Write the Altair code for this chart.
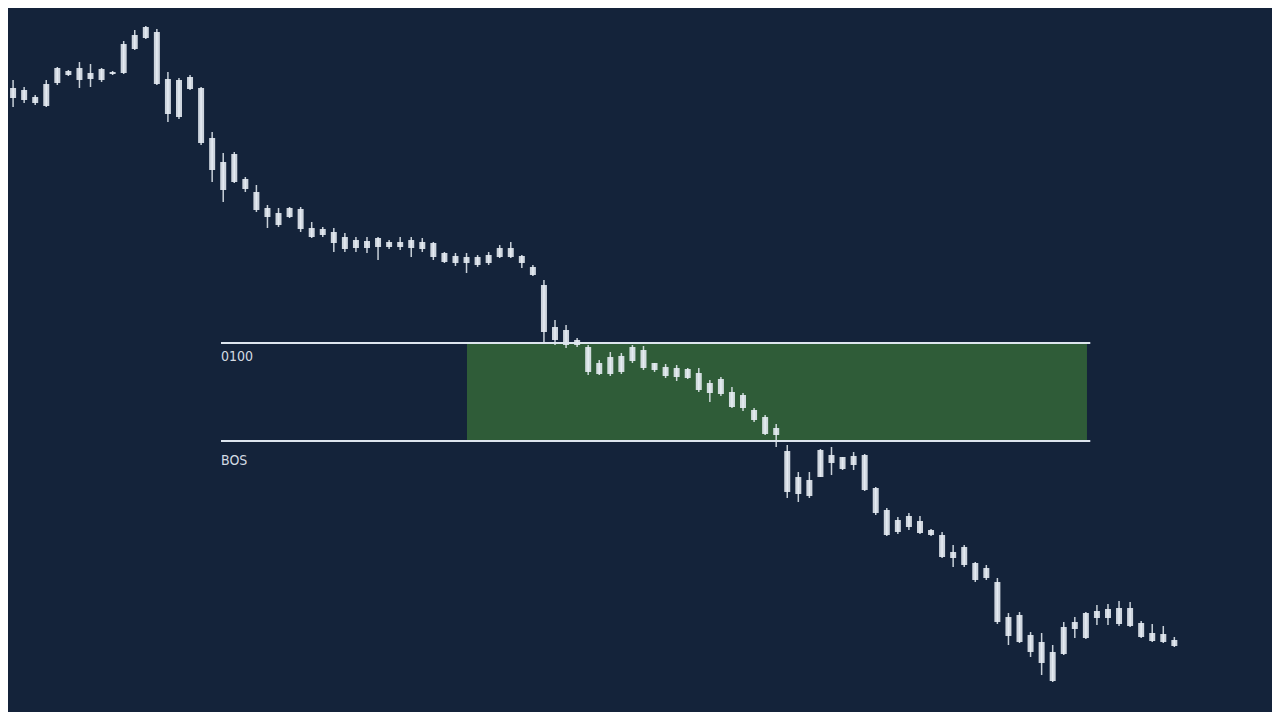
import altair as alt
import pandas as pd

# Candle OHLC values (price units)
high = [637, 640, 633, 625, 640, 653, 650, 658, 656, 652, 649, 679, 690, 694, 691, 648, 642, 645, 633, 588,
        567, 568, 543, 535, 515, 512, 513, 513, 498, 493, 492, 487, 483, 483, 483, 480, 483, 483, 482, 478,
        468, 467, 467, 465, 468, 475, 478, 465, 455, 440, 400, 395, 382, 375, 360, 368, 367, 375, 374, 357,
        356, 355, 352, 352, 340, 343, 333, 327, 312, 305, 296, 275, 248, 248, 271, 273, 263, 268, 266, 233,
        212, 203, 207, 204, 191, 188, 175, 175, 158, 155, 142, 107, 108, 88, 87, 75, 98, 103, 108, 115,
        116, 119, 118, 99, 96, 94, 83]
low = [616, 613, 617, 615, 613, 635, 644, 632, 633, 638, 645, 646, 670, 681, 635, 598, 601, 630, 575, 538,
       518, 537, 528, 508, 492, 493, 502, 488, 482, 483, 468, 468, 468, 467, 460, 471, 470, 463, 468, 460,
       457, 454, 447, 453, 455, 462, 462, 452, 444, 378, 375, 372, 373, 345, 345, 344, 346, 357, 350, 348,
       342, 339, 341, 328, 318, 324, 312, 309, 298, 285, 273, 222, 218, 222, 243, 245, 250, 250, 229, 205,
       184, 186, 190, 186, 184, 162, 153, 153, 138, 140, 96, 75, 77, 63, 45, 38, 65, 82, 81, 95,
       95, 94, 93, 82, 78, 77, 73]
open_ = [635, 632, 630, 623, 614, 637, 649, 640, 647, 651, 648, 647, 671, 682, 688, 641, 640, 643, 632, 582,
         558, 566, 541, 528, 512, 507, 512, 511, 492, 491, 488, 483, 480, 479, 482, 478, 478, 480, 478, 477,
         467, 464, 463, 463, 465, 463, 463, 464, 453, 435, 393, 390, 380, 373, 357, 363, 364, 359, 370, 357,
         353, 352, 351, 347, 337, 341, 328, 325, 310, 303, 292, 269, 243, 240, 243, 265, 263, 264, 265, 232,
         210, 200, 204, 199, 190, 185, 168, 173, 157, 152, 138, 103, 105, 85, 78, 68, 66, 98, 82, 102,
         102, 96, 112, 97, 87, 86, 80]
close = [618, 622, 620, 617, 636, 652, 645, 652, 641, 640, 646, 676, 685, 693, 636, 606, 603, 631, 577, 550,
         530, 538, 531, 510, 503, 495, 503, 491, 483, 485, 477, 471, 472, 472, 473, 473, 473, 472, 471, 463,
         458, 457, 457, 455, 457, 472, 472, 457, 445, 388, 380, 375, 375, 348, 346, 346, 348, 373, 352, 350,
         344, 343, 342, 330, 327, 326, 313, 312, 300, 286, 285, 228, 226, 224, 270, 257, 251, 255, 230, 207,
         185, 188, 193, 187, 185, 163, 162, 155, 140, 142, 98, 84, 78, 68, 57, 39, 93, 91, 107, 109,
         111, 112, 94, 83, 79, 78, 74]
idx = list(range(len(high)))

# Zone / level values
zone_start, zone_end = 42.04, 98.1
level_start, level_end = 19.8, 98.4
level_top, level_bottom = 377, 279
label_texts = ["0100", "BOS"]
label_prices = [363, 259]

candles = pd.DataFrame({"i": idx, "open": open_, "high": high, "low": low, "close": close})
zone = pd.DataFrame({"x1": [zone_start], "x2": [zone_end], "lo": [level_bottom], "hi": [level_top]})
levels = pd.DataFrame({"x1": [level_start, level_start], "x2": [level_end, level_end],
                       "p": [level_top, level_bottom]})
labels = pd.DataFrame({"x": [level_start, level_start], "p": label_prices, "t": label_texts})

xs = alt.Scale(domain=[0.54, 114.83], nice=False, zero=False, padding=0)
ys = alt.Scale(domain=[8, 712], nice=False, zero=False, padding=0)

candle_color = "#e8eef5"

zone_layer = alt.Chart(zone).mark_rect(color="#2f5c38").encode(
    x=alt.X("x1:Q", scale=xs, axis=None), x2="x2:Q",
    y=alt.Y("lo:Q", scale=ys, axis=None), y2="hi:Q")

wicks = alt.Chart(candles).mark_rule(color=candle_color, strokeWidth=1.5, opacity=0.85, clip=True).encode(
    x=alt.X("i:Q", scale=xs, axis=None),
    y=alt.Y("low:Q", scale=ys, axis=None), y2="high:Q")

bodies = alt.Chart(candles).mark_bar(size=6, color=candle_color, opacity=0.88, clip=True).encode(
    x=alt.X("i:Q", scale=xs, axis=None),
    y=alt.Y("open:Q", scale=ys, axis=None), y2="close:Q")

level_layer = alt.Chart(levels).mark_rule(color="#dde5ee", strokeWidth=2).encode(
    x=alt.X("x1:Q", scale=xs, axis=None), x2="x2:Q",
    y=alt.Y("p:Q", scale=ys, axis=None))

label_layer = alt.Chart(labels).mark_text(
    align="left", baseline="middle", color="#d3dae3", fontSize=14,
    font="DejaVu Sans Condensed").encode(
    x=alt.X("x:Q", scale=xs, axis=None),
    y=alt.Y("p:Q", scale=ys, axis=None), text="t:N")

chart = alt.layer(zone_layer, wicks, bodies, level_layer, label_layer).properties(
    width=1264, height=704, padding=0,
    autosize=alt.AutoSizeParams(type="none"),
    background="#14233a",
).configure_view(stroke=None)

chart.save("out.html", embed_options={"renderer": "svg", "actions": False})
